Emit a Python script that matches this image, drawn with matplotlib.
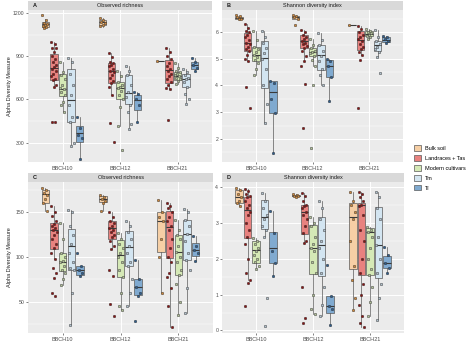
import numpy as np
import matplotlib
matplotlib.use("Agg")
import matplotlib.pyplot as plt
from matplotlib.patches import Patch

plt.rcParams['font.family'] = ['Liberation Sans', 'DejaVu Sans']

# stages and groups
stages = ["BBCH10", "BBCH12", "BBCH21"]
groups = ["Bulk soil", "Landraces + Tas", "Modern cultivars", "Tm", "Tl"]
box_colors = ["#F6CFA5", "#E8827F", "#D5E9B6", "#D3E5F1", "#80AAD0"]
pt_colors = ["#D08A3E", "#8B1414", "#B4C29C", "#B4C3CF", "#2F5F8F"]

# ---- panel A: observed richness (run 1) ----  rows = groups, cols = stages
A_low = [[1095, 1105, 865], [690, 630, 670], [515, 415, 705], [275, 395, 570], [185, 445, 800]]
A_q1 = [[1105, 1115, 865], [735, 715, 715], [625, 600, 735], [440, 565, 690], [305, 525, 812]]
A_med = [[1125, 1140, 865], [820, 800, 805], [675, 680, 765], [595, 645, 745], [365, 595, 840]]
A_q3 = [[1140, 1155, 865], [915, 855, 875], [775, 720, 790], [810, 770, 780], [415, 630, 860]]
A_high = [[1160, 1165, 865], [1000, 920, 960], [860, 800, 850], [890, 830, 815], [475, 650, 885]]
A_pts = [
    [[1185, 1150, 1135, 1125, 1120, 1112, 1105, 1098], [1165, 1150, 1140, 1130, 1120, 1110], [865]],
    [[1000, 985, 960, 955, 930, 905, 880, 860, 840, 825, 815, 800, 780, 760, 740, 735, 700, 690, 445, 445],
     [920, 895, 860, 850, 840, 830, 810, 800, 790, 770, 750, 730, 715, 690, 630, 435, 305],
     [960, 930, 900, 880, 850, 830, 810, 800, 780, 760, 740, 720, 700, 680, 670, 460]],
    [[860, 790, 770, 740, 700, 680, 670, 650, 630, 585, 560, 515],
     [800, 760, 720, 700, 690, 680, 660, 630, 600, 550, 415, 250],
     [850, 820, 800, 790, 780, 770, 760, 750, 740, 730, 705]],
    [[890, 860, 780, 700, 630, 560, 480, 440, 300, 275],
     [830, 800, 770, 700, 650, 620, 560, 510, 430, 395],
     [815, 790, 770, 750, 740, 720, 690, 640, 600, 570]],
    [[475, 400, 350, 330, 185], [650, 640, 600, 560, 445], [885, 860, 840, 820, 800]],
]

# ---- panel B: Shannon (run 1) ----
B_low = [[6.45, 6.48, 6.27], [4.9, 4.9, 5.15], [4.4, 4.72, 5.72], [2.6, 4.02, 5.06], [1.46, 3.42, 5.58]]
B_q1 = [[6.48, 6.5, 6.27], [5.27, 5.4, 5.34], [4.9, 5.09, 5.84], [3.9, 4.59, 5.27], [2.96, 4.31, 5.62]]
B_med = [[6.52, 6.55, 6.27], [5.6, 5.65, 5.7], [5.15, 5.24, 5.94], [5.02, 5.15, 5.52], [3.77, 4.72, 5.71]]
B_q3 = [[6.56, 6.6, 6.27], [5.95, 5.9, 6.02], [5.45, 5.4, 6.02], [5.65, 5.52, 5.65], [4.15, 4.96, 5.81]]
B_high = [[6.6, 6.62, 6.27], [6.28, 6.09, 6.22], [6.05, 5.75, 6.12], [6.05, 5.96, 6.09], [4.17, 4.98, 5.86]]
B_pts = [
    [[6.65, 6.58, 6.54, 6.5, 6.47], [6.62, 6.58, 6.55, 6.5, 6.27], [6.27]],
    [[6.28, 6.15, 6.05, 5.98, 5.9, 5.8, 5.7, 5.6, 5.55, 5.45, 5.35, 5.28, 5.15, 5.0, 4.9, 3.95, 3.15],
     [6.09, 5.98, 5.9, 5.82, 5.75, 5.68, 5.6, 5.55, 5.48, 5.4, 5.3, 5.1, 4.9, 4.74, 4.05, 2.42],
     [6.22, 6.1, 6.0, 5.9, 5.8, 5.72, 5.65, 5.55, 5.45, 5.35, 5.25, 5.15, 4.96, 3.17]],
    [[6.05, 5.7, 5.45, 5.35, 5.25, 5.15, 5.05, 4.95, 4.85, 4.6, 4.4],
     [5.75, 5.5, 5.4, 5.3, 5.25, 5.2, 5.1, 4.95, 4.72, 4.02, 1.67],
     [6.12, 6.05, 6.0, 5.95, 5.9, 5.85, 5.8, 5.72]],
    [[6.05, 5.8, 5.6, 5.4, 5.2, 5.0, 4.6, 4.0, 3.3, 2.6],
     [5.96, 5.7, 5.5, 5.3, 5.1, 4.9, 4.6, 4.4, 4.02],
     [6.09, 5.8, 5.65, 5.55, 5.45, 5.35, 5.25, 5.06, 4.46]],
    [[4.17, 4.1, 3.5, 2.96, 1.46], [4.98, 4.9, 4.72, 4.3, 3.42], [5.86, 5.8, 5.72, 5.65, 5.58]],
]

# ---- panel C: observed richness (run 2) ----
C_low = [[151, 152, 60], [98, 109, 22], [69, 41, 35], [24, 45.5, 37], [79, 56, 96]]
C_q1 = [[160.5, 162, 106], [109, 120, 99], [84, 77.6, 80], [86, 90, 97], [80, 57, 101.5]]
C_med = [[171, 165, 140], [130.5, 132.5, 134], [95, 102.6, 106], [112, 111, 126], [86, 66.5, 108]]
C_q3 = [[174.5, 168, 150], [138, 140, 152], [104.5, 118.7, 125], [131, 129, 142], [90, 75, 116]]
C_high = [[177, 169, 164], [157.5, 150, 160], [138, 127, 142], [153, 140, 154], [90, 97, 124]]
C_pts = [
    [[177, 175, 172, 170, 165, 160, 151], [169, 167, 165, 163, 160, 152], [164, 150, 145, 140, 120, 100, 60]],
    [[157, 150, 146, 140, 137, 135, 132, 130, 128, 125, 120, 115, 110, 105, 98, 88, 82, 76, 60, 56],
     [150, 145, 140, 138, 135, 133, 130, 128, 125, 122, 118, 112, 109, 85, 79, 47, 34],
     [160, 157, 155, 150, 145, 140, 135, 130, 120, 110, 100, 95, 82, 78, 65, 45, 22]],
    [[138, 120, 105, 100, 96, 94, 90, 86, 82, 75, 69],
     [127, 120, 115, 110, 105, 100, 95, 85, 78, 60, 45, 41],
     [142, 130, 125, 120, 112, 106, 100, 95, 85, 80, 70, 50, 35]],
    [[153, 150, 135, 125, 115, 105, 95, 88, 85, 60, 24],
     [140, 135, 128, 120, 112, 105, 95, 90, 75, 60, 45.5],
     [154, 150, 142, 135, 126, 118, 105, 97, 85, 65, 37]],
    [[105, 90, 86, 82, 79], [97, 75, 67, 60, 56, 28], [124, 112, 108, 104, 96]],
]

# ---- panel D: Shannon (run 2) ----
D_low = [[3.45, 3.7, 0.57], [1.41, 2.43, 0.11], [1.7, 0.46, 0.39], [2.6, 0.4, 0.3], [1.52, 0.14, 1.59]]
D_q1 = [[3.55, 3.73, 1.7], [2.56, 2.68, 1.55], [1.89, 1.56, 1.55], [2.81, 1.52, 1.45], [1.89, 0.5, 1.73]]
D_med = [[3.7, 3.75, 3.17], [3.35, 3.3, 3.49], [2.24, 2.29, 2.75], [3.15, 2.38, 2.38], [2.29, 0.67, 1.87]]
D_q3 = [[3.9, 3.78, 3.54], [3.72, 3.49, 3.54], [2.49, 2.94, 2.85], [3.63, 3.15, 3.44], [2.73, 0.97, 2.07]]
D_high = [[3.95, 3.8, 3.86], [3.93, 3.83, 3.86], [2.56, 3.17, 2.89], [3.83, 3.61, 3.86], [3.31, 0.97, 2.31]]
D_pts = [
    [[3.95, 3.9, 3.8, 3.7, 3.6, 3.55, 3.45], [3.8, 3.77, 3.75, 3.73, 3.7],
     [3.86, 3.6, 3.5, 3.3, 3.1, 2.5, 1.8, 1.4, 0.9, 0.57]],
    [[3.93, 3.88, 3.8, 3.75, 3.7, 3.6, 3.5, 3.4, 3.3, 3.2, 3.0, 2.8, 2.6, 2.4, 2.0, 1.6, 1.41, 1.31, 0.67],
     [3.83, 3.75, 3.6, 3.5, 3.45, 3.4, 3.3, 3.2, 3.1, 2.9, 2.7, 2.5, 2.43, 1.22, 0.34, 0.2],
     [3.86, 3.8, 3.7, 3.6, 3.5, 3.45, 3.2, 2.8, 2.5, 2.0, 1.6, 1.3, 1.0, 0.7, 0.4, 0.2, 0.11]],
    [[2.56, 2.5, 2.4, 2.3, 2.2, 2.1, 2.0, 1.9, 1.8, 1.7],
     [3.17, 3.0, 2.9, 2.6, 2.4, 2.3, 2.2, 1.9, 1.6, 1.0, 0.6, 0.46],
     [2.89, 2.8, 2.75, 2.6, 2.3, 2.0, 1.7, 1.55, 1.2, 0.8, 0.39]],
    [[3.83, 3.6, 3.4, 3.2, 3.1, 2.9, 2.8, 2.6, 0.9, 0.13],
     [3.61, 3.4, 3.1, 2.8, 2.5, 2.3, 2.0, 1.6, 1.2, 0.7, 0.4],
     [3.86, 3.7, 3.4, 3.1, 2.6, 2.38, 2.0, 1.6, 1.3, 0.9, 0.3]],
    [[3.31, 2.7, 2.2, 1.89, 1.52], [1.82, 0.97, 0.67, 0.6, 0.14], [2.31, 2.1, 1.87, 1.75, 1.59]],
]

GRAY = "#4D4D4D"
FS = 4.0
offs = [-0.3, -0.15, 0.0, 0.15, 0.3]


def draw_panel(rect, low, q1, med, q3, high, pts, yticks, ylim, title, letter, ylabel=False):
    ax = fig.add_axes(rect)
    ax.set_facecolor("#EBEBEB")
    for s in ax.spines.values():
        s.set_visible(False)
    # grid ggplot style
    minor = [(yticks[i] + yticks[i + 1]) / 2 for i in range(len(yticks) - 1)]
    step = yticks[1] - yticks[0]
    minor = [yticks[0] - step / 2] + minor + [yticks[-1] + step / 2]
    for m in minor:
        ax.axhline(m, color="white", lw=0.35, zorder=0)
    for t in yticks:
        ax.axhline(t, color="white", lw=0.7, zorder=0)
    for i in range(len(stages)):
        ax.axvline(i + 1, color="white", lw=0.7, zorder=0)

    for g in range(len(groups)):
        stats = []
        pos = []
        for s in range(len(stages)):
            stats.append(dict(med=med[g][s], q1=q1[g][s], q3=q3[g][s],
                              whislo=low[g][s], whishi=high[g][s], fliers=[]))
            pos.append(s + 1 + offs[g])
        ax.bxp(stats, positions=pos, widths=0.13, showcaps=False, patch_artist=True,
               boxprops=dict(facecolor=box_colors[g], edgecolor="#5A5A5A", lw=0.5),
               whiskerprops=dict(color="#5A5A5A", lw=0.5),
               medianprops=dict(color="#3A3A3A", lw=0.8), manage_ticks=False, zorder=2)
        for s in range(len(stages)):
            v = np.array(pts[g][s], dtype=float)
            n = len(v)
            jit = ((np.arange(n) * 0.618) % 1 - 0.5) * 0.1
            ax.scatter(s + 1 + offs[g] + jit, v, s=3.5, c=pt_colors[g],
                       edgecolors="#333333", linewidths=0.3, zorder=3)

    ax.set_xlim(0.4, 3.6)
    ax.set_ylim(*ylim)
    ax.set_xticks([1, 2, 3])
    ax.set_xticklabels(stages)
    ax.set_yticks(yticks)
    ax.tick_params(labelsize=FS, colors=GRAY, length=1.5, width=0.5, pad=1.2)
    ax.tick_params(axis="y", labelsize=3.7)
    x0, y0, w, h = rect
    if ylabel:
        fig.text(9.5 / W, y0 + h / 2, "Alpha Diversity Measure", rotation=90, ha="center", va="center",
                 fontsize=FS, color="#222222")

    # strip
    sh = 9 / 350
    strip = fig.add_axes([x0, y0 + h, w, sh])
    strip.set_facecolor("#D9D9D9")
    strip.set_xticks([])
    strip.set_yticks([])
    for s in strip.spines.values():
        s.set_visible(False)
    strip.text(0.5, 0.5, title, ha="center", va="center", fontsize=FS, color="#1A1A1A")
    strip.text(0.025, 0.5, letter, ha="left", va="center", fontsize=FS, fontweight="bold", color="#1A1A1A")
    return ax


fig = plt.figure(figsize=(4.74, 3.5), dpi=100)
W, H = 474, 350

draw_panel([28 / W, 1 - 162 / H, 184 / W, 152 / H], A_low, A_q1, A_med, A_q3, A_high, A_pts,
           [300, 600, 900, 1200], (165, 1222), "Observed richness", "A", ylabel=True)
draw_panel([222 / W, 1 - 162 / H, 181 / W, 152 / H], B_low, B_q1, B_med, B_q3, B_high, B_pts,
           [2, 3, 4, 5, 6], (1.14, 6.82), "Shannon diversity index", "B")
draw_panel([28 / W, 1 - 333 / H, 185 / W, 151 / H], C_low, C_q1, C_med, C_q3, C_high, C_pts,
           [50, 100, 150], (15, 184), "Observed richness", "C", ylabel=True)
draw_panel([222 / W, 1 - 333 / H, 182 / W, 151 / H], D_low, D_q1, D_med, D_q3, D_high, D_pts,
           [0, 1, 2, 3, 4], (-0.07, 4.13), "Shannon diversity index", "D")

handles = [Patch(facecolor=box_colors[i], edgecolor="#5A5A5A", lw=0.5) for i in range(len(groups))]
fig.legend(handles, groups, loc="upper left", bbox_to_anchor=(412 / W, 1 - 143 / H),
           fontsize=FS, frameon=False, handlelength=1.2, handleheight=1.2,
           labelspacing=0.75, handletextpad=0.8, borderaxespad=0)

fig.savefig("out.png", dpi=100)
